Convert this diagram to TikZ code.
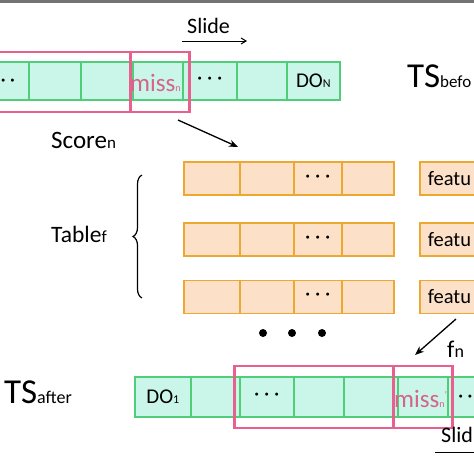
\documentclass[tikz,border=0pt]{standalone}
\usepackage{fontspec}
\setmainfont{Carlito}
\usetikzlibrary{arrows.meta,decorations.pathreplacing}
\definecolor{tsgreen}{RGB}{80,205,120}
\definecolor{tsfill}{RGB}{202,246,234}
\definecolor{tspink}{RGB}{232,96,142}
\definecolor{misstxt}{RGB}{212,100,138}
\definecolor{taborange}{RGB}{236,168,48}
\definecolor{tabfill}{RGB}{252,225,200}
\newcommand\fsz[1]{\fontsize{#1}{#1}\selectfont}
\tikzset{
  gcell/.style={draw=tsgreen, fill=tsfill, line width=1.6pt, inner sep=0pt, anchor=west, font=\fsz{21}},
  ocell/.style={draw=taborange, fill=tabfill, line width=1.7pt, inner sep=0pt, anchor=west, minimum height=33pt, font=\fsz{21}},
  featbox/.style={draw=taborange, fill=tabfill, line width=1.7pt, inner xsep=8pt, text width=54pt, align=left, anchor=west, minimum height=33pt, font=\fsz{20.5}},
  pinkbox/.style={draw=tspink, line width=2.8pt, inner sep=0pt, anchor=west},
  lbl/.style={inner sep=0pt, anchor=base west},
  misslbl/.style={inner sep=0pt, anchor=base west, text=misstxt},
  bigdot/.style={circle, fill=black, inner sep=0pt, minimum size=8pt},
  arr/.style={line width=1.3pt, -{Stealth[length=9pt,width=7pt]}},
  slidearr/.style={line width=1pt, -{Straight Barb[length=5pt,width=6pt]}}
}
\begin{document}
\begin{tikzpicture}[x=1pt,y=-1pt]
\useasboundingbox (0,0) rectangle (474,474);
\begin{scope}
\clip (0,0) rectangle (474,474);
\fill[white] (0,0) rectangle (474,474);
\fill[black!55] (0,0) rectangle (474,2.5);
% top row
\node[gcell, minimum width=50pt, minimum height=38pt] (t0) at (-22,81) {};
\node[lbl, font=\fsz{21}] (t0dots) at (0.5,86) {·\hspace{4pt}·};
\node[gcell, minimum width=52pt, minimum height=38pt] (t1) at (28,81) {};
\node[gcell, minimum width=52pt, minimum height=38pt] (t2) at (80,81) {};
\node[gcell, minimum width=50pt, minimum height=38pt] (t3) at (132,81) {};
\node[gcell, minimum width=54pt, minimum height=38pt] (t4) at (182,81) {· · ·};
\node[gcell, minimum width=50pt, minimum height=38pt] (t5) at (236,81) {};
\node[gcell, minimum width=53pt, minimum height=38pt] (t6) at (286,81) {\fsz{21}DO\fsz{12}N};
\node[misslbl] (m1) at (130,91) {\fsz{25}miss\fsz{10}n};
\node[pinkbox, minimum width=134pt, minimum height=60pt] (w1) at (-5,82) {};
\node[pinkbox, minimum width=59pt, minimum height=60pt] (w2) at (129,82) {};
% labels top
\node[lbl, font=\fsz{22}] (slide1) at (187,33) {Slide};
\coordinate (s1a) at (182,41);
\coordinate (s1b) at (247,41);
\draw[slidearr] (s1a) -- (s1b);
\node[lbl] (tsb) at (407,87) {\fsz{35}TS\fsz{17}befo};
\node[lbl] (score) at (51,148) {\fsz{25}Score\fsz{17}n};
\coordinate (sca) at (178,120);
\coordinate (scb) at (238,147);
\draw[arr] (sca) -- (scb);
% table rows
\foreach \r/\y in {1/178.5, 2/239.5, 3/297} {
  \node[ocell, minimum width=56pt] (o\r a) at (183,\y) {};
  \node[ocell, minimum width=54pt] (o\r b) at (239,\y) {};
  \node[ocell, minimum width=48pt] (o\r c) at (293,\y) {· · ·};
  \node[ocell, minimum width=52pt] (o\r d) at (341,\y) {};
  \node[featbox] (f\r) at (419,\y) {featu};
}
\coordinate (bra) at (142,175);
\coordinate (brb) at (142,298);
\draw[line width=1.2pt, decorate, decoration={brace, amplitude=9pt, mirror}] (bra) -- (brb);
\node[lbl] (table) at (51,242) {\fsz{23.5}Table\fsz{17}f};
\node[bigdot] (d1) at (263,333) {};
\node[bigdot] (d2) at (292,333) {};
\node[bigdot] (d3) at (322,333) {};
\coordinate (fa) at (456,319);
\coordinate (fb) at (415,355);
\draw[arr] (fa) -- (fb);
\node[lbl] (fn) at (447,357) {\fsz{24}f\fsz{18}n};
% bottom row
\node[gcell, minimum width=56pt, minimum height=40pt] (b0) at (134,397) {\fsz{21}DO\fsz{12}1};
\node[gcell, minimum width=49pt, minimum height=40pt] (b1) at (190,397) {};
\node[gcell, minimum width=54pt, minimum height=40pt] (b2) at (239,397) {· · ·};
\node[gcell, minimum width=50pt, minimum height=40pt] (b3) at (293,397) {};
\node[gcell, minimum width=54pt, minimum height=40pt] (b4) at (343,397) {};
\node[gcell, minimum width=50pt, minimum height=40pt] (b5) at (397,397) {};
\node[gcell, minimum width=52pt, minimum height=40pt] (b6) at (447,397) {};
\node[misslbl] (m2) at (394,407) {\fsz{25}miss\fsz{10}n\raisebox{9pt}{\fsz{10}'}};
\node[lbl, font=\fsz{21}] (b6dots) at (458,402) {·\hspace{4pt}·};
\node[pinkbox, minimum width=159pt, minimum height=62pt] (v1) at (233,397) {};
\node[pinkbox, minimum width=59pt, minimum height=62pt] (v2) at (392,397) {};
\node[lbl] (tsa) at (4,403) {\fsz{35}TS\fsz{18}after};
\node[lbl, font=\fsz{22}] (slide2) at (441,442) {Slid};
\coordinate (s2a) at (435,452);
\coordinate (s2b) at (500,452);
\draw[slidearr] (s2a) -- (s2b);
\end{scope}
\end{tikzpicture}
\end{document}
